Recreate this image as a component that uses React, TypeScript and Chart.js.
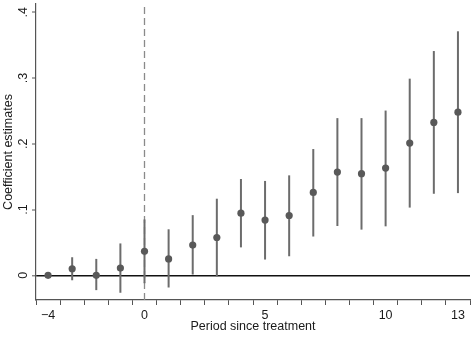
import React, { useEffect, useRef } from "react";
import { Chart, registerables } from "chart.js";

Chart.register(...registerables);

const periods = [-4, -3, -2, -1, 0, 1, 2, 3, 4, 5, 6, 7, 8, 9, 10, 11, 12, 13];
const estimates = [0, 0.010, 0.0, 0.011, 0.0365, 0.025, 0.046, 0.0575, 0.0945, 0.084, 0.091, 0.126, 0.157, 0.1545, 0.163, 0.201, 0.2325, 0.248];
const ciLow = [0, -0.0075, -0.0225, -0.0265, -0.012, -0.0185, 0.0, -0.0015, 0.0425, 0.024, 0.029, 0.059, 0.075, 0.0695, 0.0745, 0.103, 0.124, 0.125];
const ciHigh = [0, 0.0275, 0.025, 0.0485, 0.085, 0.07, 0.0915, 0.1165, 0.1465, 0.1435, 0.152, 0.192, 0.239, 0.239, 0.2505, 0.299, 0.341, 0.371];
const xTickLabels = [-4, 0, 5, 10, 13];
const yTicks = [0, 0.1, 0.2, 0.3, 0.4];
const xMin = -4.5;
const xMax = 13.5;
const yMin = -0.0375;
const yMax = 0.4125;
const treatmentPeriod = 0;

const FONT = 'Arial, "Liberation Sans", Helvetica, sans-serif';

export default function App() {
  const ref = useRef<HTMLCanvasElement | null>(null);

  useEffect(() => {
    if (!ref.current) return;
    const chart = new Chart(ref.current, {
      type: "scatter",
      data: {
        datasets: [
          {
            type: "line",
            data: [
              { x: treatmentPeriod, y: yMin },
              { x: treatmentPeriod, y: yMax },
            ],
            borderColor: "#8a8a8a",
            borderWidth: 1.3,
            borderDash: [7, 4],
            pointRadius: 0,
            order: 3,
          } as any,
          {
            type: "bar",
            data: periods.map((p, i) => ({ x: p, y: [ciLow[i], ciHigh[i]] })),
            backgroundColor: "#6c6c6c",
            borderWidth: 0,
            barThickness: 2,
            inflateAmount: 0,
            order: 2,
          } as any,
          {
            type: "scatter",
            data: periods.map((p, i) => ({ x: p, y: estimates[i] })),
            backgroundColor: "#595959",
            borderWidth: 0,
            pointRadius: 3.6,
            order: 1,
          } as any,
        ],
      },
      options: {
        animation: false,
        responsive: true,
        maintainAspectRatio: false,
        layout: { padding: 0 },
        plugins: {
          legend: { display: false },
          tooltip: { enabled: false },
        },
        scales: {
          x: {
            type: "linear",
            min: xMin,
            max: xMax,
            offset: false,
            afterBuildTicks: (scale: any) => {
              scale.ticks = periods.map((v) => ({ value: v }));
            },
            afterFit: (scale: any) => {
              scale.height = 37;
              scale.paddingLeft = 0;
              scale.paddingRight = 0;
            },
            grid: {
              drawOnChartArea: false,
              drawTicks: true,
              tickLength: 5,
              tickColor: "#555",
              tickWidth: 1,
            },
            border: { display: true, color: "#555", width: 1.2 },
            ticks: {
              autoSkip: false,
              maxRotation: 0,
              padding: 3,
              color: "#1a1a1a",
              font: { family: FONT, size: 12.5 },
              callback: (v: any) => (xTickLabels.includes(Number(v)) ? String(v).replace("-", "\u2212") : ""),
            },
            title: {
              display: true,
              text: "Period since treatment",
              color: "#1a1a1a",
              font: { family: FONT, size: 12.5 },
              padding: { top: 0, bottom: 3 },
            },
          },
          y: {
            type: "linear",
            min: yMin,
            max: yMax,
            afterBuildTicks: (scale: any) => {
              scale.ticks = yTicks.map((v) => ({ value: v }));
            },
            afterFit: (scale: any) => {
              scale.width = 36;
              scale.paddingTop = 0;
              scale.paddingBottom = 0;
            },
            grid: {
              drawOnChartArea: true,
              drawTicks: true,
              tickLength: 4,
              color: (ctx: any) => (ctx.tick && ctx.tick.value === 0 ? "#111" : "rgba(0,0,0,0)"),
              lineWidth: (ctx: any) => (ctx.tick && ctx.tick.value === 0 ? 1.6 : 0),
              tickColor: "#555",
              tickWidth: 1,
            },
            border: { display: true, color: "#555", width: 1.2 },
            ticks: {
              minRotation: 90,
              maxRotation: 90,
              crossAlign: "center",
              padding: 3,
              color: "#1a1a1a",
              font: { family: FONT, size: 12.5 },
              callback: (v: any) => (Number(v) === 0 ? "0" : Number(v).toFixed(1).replace(/^0/, "")),
            },
            title: {
              display: true,
              text: "Coefficient estimates",
              color: "#1a1a1a",
              font: { family: FONT, size: 12.5 },
              padding: { top: 1, bottom: 0 },
            },
          },
        },
      },
    });
    return () => chart.destroy();
  }, []);

  return (
    <div style={{ position: "absolute", left: 0, top: 0, width: 474, height: 337, background: "#fff" }}>
      <canvas ref={ref} />
    </div>
  );
}
